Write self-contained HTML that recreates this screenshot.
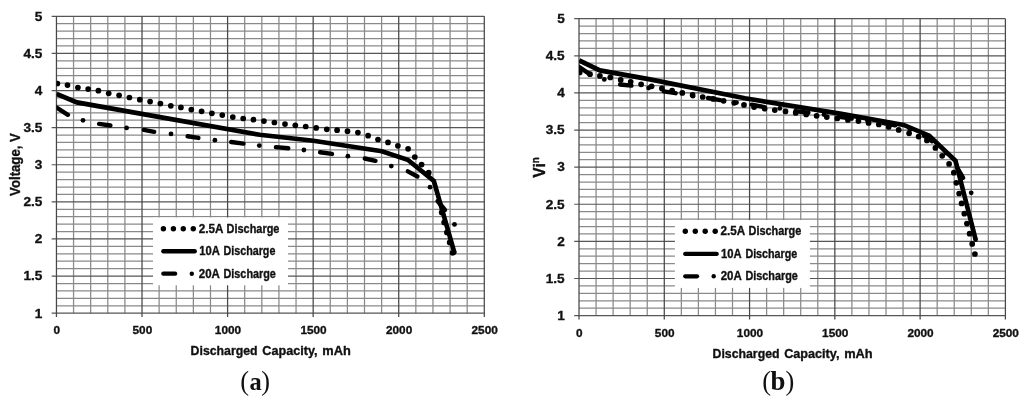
<!DOCTYPE html>
<html lang="en"><head><meta charset="utf-8"><title>Discharge curves</title>
<style>html,body{margin:0;padding:0;background:#fff}svg{display:block}text{fill:#111}</style></head><body>
<svg width="1024" height="402" viewBox="0 0 1024 402">
<rect width="1024" height="402" fill="#fff"/>
<path d="M56.45 305.78H484.3M56.45 298.36H484.3M56.45 290.93H484.3M56.45 283.51H484.3M56.45 268.66H484.3M56.45 261.24H484.3M56.45 253.82H484.3M56.45 246.4H484.3M56.45 231.55H484.3M56.45 224.13H484.3M56.45 216.71H484.3M56.45 209.28H484.3M56.45 194.44H484.3M56.45 187.02H484.3M56.45 179.59H484.3M56.45 172.17H484.3M56.45 157.33H484.3M56.45 149.91H484.3M56.45 142.48H484.3M56.45 135.06H484.3M56.45 120.22H484.3M56.45 112.79H484.3M56.45 105.37H484.3M56.45 97.95H484.3M56.45 83.1H484.3M56.45 75.68H484.3M56.45 68.26H484.3M56.45 60.83H484.3M56.45 45.99H484.3M56.45 38.57H484.3M56.45 31.14H484.3M56.45 23.72H484.3" stroke="#8a8a8a" stroke-width="1.25" fill="none"/>
<path d="M73.56 16.3V313.2M90.68 16.3V313.2M107.79 16.3V313.2M124.91 16.3V313.2M159.13 16.3V313.2M176.25 16.3V313.2M193.36 16.3V313.2M210.48 16.3V313.2M244.7 16.3V313.2M261.82 16.3V313.2M278.93 16.3V313.2M296.05 16.3V313.2M330.27 16.3V313.2M347.39 16.3V313.2M364.5 16.3V313.2M381.62 16.3V313.2M415.84 16.3V313.2M432.96 16.3V313.2M450.07 16.3V313.2M467.19 16.3V313.2" stroke="#8a8a8a" stroke-width="1.25" fill="none"/>
<path d="M51.65 313.2H484.3M51.65 276.09H484.3M51.65 238.97H484.3M51.65 201.86H484.3M51.65 164.75H484.3M51.65 127.64H484.3M51.65 90.53H484.3M51.65 53.41H484.3M51.65 16.3H484.3" stroke="#565656" stroke-width="1.2" fill="none"/>
<path d="M56.45 16.3V317M142.02 16.3V317M227.59 16.3V317M313.16 16.3V317M398.73 16.3V317M484.3 16.3V317" stroke="#484848" stroke-width="1.25" fill="none"/>
<clipPath id="ca"><rect x="56.5" y="10" width="440" height="310"/></clipPath><g clip-path="url(#ca)">
<circle cx="57.4" cy="83.5" r="2.85"/>
<circle cx="67.5" cy="85.1" r="2.85"/>
<circle cx="77.9" cy="87.5" r="2.85"/>
<circle cx="88.2" cy="89.1" r="2.85"/>
<circle cx="98.4" cy="90.7" r="2.85"/>
<circle cx="108.7" cy="93.3" r="2.85"/>
<circle cx="119.1" cy="95.3" r="2.85"/>
<circle cx="129.4" cy="97.5" r="2.85"/>
<circle cx="139.8" cy="99.7" r="2.85"/>
<circle cx="150.1" cy="101.6" r="2.85"/>
<circle cx="160.4" cy="103.6" r="2.85"/>
<circle cx="170.8" cy="105.8" r="2.85"/>
<circle cx="180.9" cy="107.4" r="2.85"/>
<circle cx="191.3" cy="109.6" r="2.85"/>
<circle cx="201.6" cy="111.3" r="2.85"/>
<circle cx="211.9" cy="113.3" r="2.85"/>
<circle cx="222.3" cy="115.1" r="2.85"/>
<circle cx="232.8" cy="117.1" r="2.85"/>
<circle cx="243.2" cy="118.5" r="2.85"/>
<circle cx="253.5" cy="119.7" r="2.85"/>
<circle cx="263.9" cy="121.1" r="2.85"/>
<circle cx="274.4" cy="122.5" r="2.85"/>
<circle cx="285" cy="124.1" r="2.85"/>
<circle cx="295.3" cy="125.3" r="2.85"/>
<circle cx="305.7" cy="126.5" r="2.85"/>
<circle cx="316.2" cy="127.9" r="2.85"/>
<circle cx="326.8" cy="129.3" r="2.85"/>
<circle cx="337.1" cy="130.2" r="2.85"/>
<circle cx="347.5" cy="131.2" r="2.85"/>
<circle cx="357.9" cy="132.6" r="2.85"/>
<circle cx="368.1" cy="135.7" r="2.85"/>
<circle cx="378" cy="139.5" r="2.85"/>
<circle cx="388" cy="142.4" r="2.85"/>
<circle cx="397.9" cy="145.8" r="2.85"/>
<circle cx="408.1" cy="148.8" r="2.85"/>
<circle cx="414.8" cy="157" r="2.85"/>
<circle cx="421.6" cy="164.6" r="2.85"/>
<circle cx="428.7" cy="172.7" r="2.85"/>
<circle cx="441.7" cy="212.4" r="2.85"/>
<circle cx="444.2" cy="222.4" r="2.85"/>
<circle cx="446.9" cy="232.4" r="2.85"/>
<circle cx="449.7" cy="242.4" r="2.85"/>
<circle cx="452.6" cy="252.9" r="2.85"/>
<path d="M56.6 93.9L76.9 102.4L259.7 134.8L313.4 140.8L381.8 151.2L407.7 159.8L433.8 180.9L454.4 252.6" stroke="#000" stroke-width="4.65" fill="none" stroke-linejoin="miter" stroke-linecap="butt"/>
<circle cx="454.4" cy="252.6" r="2.2"/>
<path d="M55.1 106.7L67.9 114.8" stroke="#000" stroke-width="4.4" stroke-linecap="round"/>
<circle cx="83" cy="120.3" r="2.4"/>
<circle cx="126.6" cy="127.9" r="2.4"/>
<circle cx="171" cy="133.9" r="2.4"/>
<circle cx="214.9" cy="140.2" r="2.4"/>
<circle cx="259.3" cy="145.6" r="2.4"/>
<circle cx="303.9" cy="150" r="2.4"/>
<circle cx="347.9" cy="156.2" r="2.4"/>
<circle cx="391.3" cy="166.1" r="2.4"/>
<circle cx="430" cy="187.2" r="2.4"/>
<circle cx="454.5" cy="224.4" r="2.4"/>
<path d="M99.09 123.89L110.41 125.51" stroke="#000" stroke-width="4.4" stroke-linecap="round"/>
<path d="M143.78 129.94L154.22 131.86" stroke="#000" stroke-width="4.4" stroke-linecap="round"/>
<path d="M187.59 136.29L198.41 137.91" stroke="#000" stroke-width="4.4" stroke-linecap="round"/>
<path d="M231.19 141.97L243.51 143.63" stroke="#000" stroke-width="4.4" stroke-linecap="round"/>
<path d="M275.89 147.12L288.31 148.28" stroke="#000" stroke-width="4.4" stroke-linecap="round"/>
<path d="M320.09 152.28L332.01 153.92" stroke="#000" stroke-width="4.4" stroke-linecap="round"/>
<path d="M364.77 158.48L375.53 160.82" stroke="#000" stroke-width="4.4" stroke-linecap="round"/>
<path d="M407.84 171.32L417.46 176.48" stroke="#000" stroke-width="4.4" stroke-linecap="round"/>
<path d="M437.62 201.01L444.98 209.99" stroke="#000" stroke-width="4.4" stroke-linecap="round"/>
</g>
<rect x="153" y="217.5" width="135" height="67.8" fill="#fff"/>
<circle cx="163.4" cy="228.7" r="2.7"/>
<circle cx="173.4" cy="228.7" r="2.7"/>
<circle cx="183.3" cy="228.7" r="2.7"/>
<circle cx="193.3" cy="228.7" r="2.7"/>
<path d="M163.4 251.3H194.7" stroke="#000" stroke-width="4.4" stroke-linecap="round"/>
<path d="M163.3 273.7H175.2" stroke="#000" stroke-width="4.2" stroke-linecap="round"/>
<circle cx="191.8" cy="273.7" r="2.2"/>
<text x="198.7" y="232.8" font-size="12.1" textLength="24.6" lengthAdjust="spacingAndGlyphs" font-family="Liberation Sans, sans-serif" font-weight="bold" stroke="#111" stroke-width="0.35" stroke-linejoin="round">2.5A</text>
<text x="226.6" y="232.8" font-size="12.1" textLength="52.8" lengthAdjust="spacingAndGlyphs" font-family="Liberation Sans, sans-serif" font-weight="bold" stroke="#111" stroke-width="0.35" stroke-linejoin="round">Discharge</text>
<text x="199.2" y="255.1" font-size="12.1" textLength="20.6" lengthAdjust="spacingAndGlyphs" font-family="Liberation Sans, sans-serif" font-weight="bold" stroke="#111" stroke-width="0.35" stroke-linejoin="round">10A</text>
<text x="223.5" y="255.1" font-size="12.1" textLength="51.9" lengthAdjust="spacingAndGlyphs" font-family="Liberation Sans, sans-serif" font-weight="bold" stroke="#111" stroke-width="0.35" stroke-linejoin="round">Discharge</text>
<text x="198.8" y="277.5" font-size="12.1" textLength="21" lengthAdjust="spacingAndGlyphs" font-family="Liberation Sans, sans-serif" font-weight="bold" stroke="#111" stroke-width="0.35" stroke-linejoin="round">20A</text>
<text x="223.5" y="277.5" font-size="12.1" textLength="52.4" lengthAdjust="spacingAndGlyphs" font-family="Liberation Sans, sans-serif" font-weight="bold" stroke="#111" stroke-width="0.35" stroke-linejoin="round">Discharge</text>
<text x="42.4" y="317.5" text-anchor="end" font-size="13.6" font-family="Liberation Sans, sans-serif" font-weight="bold" stroke="#111" stroke-width="0.35" stroke-linejoin="round">1</text>
<text x="42.4" y="280.39" text-anchor="end" font-size="13.6" font-family="Liberation Sans, sans-serif" font-weight="bold" stroke="#111" stroke-width="0.35" stroke-linejoin="round">1.5</text>
<text x="42.4" y="243.28" text-anchor="end" font-size="13.6" font-family="Liberation Sans, sans-serif" font-weight="bold" stroke="#111" stroke-width="0.35" stroke-linejoin="round">2</text>
<text x="42.4" y="206.16" text-anchor="end" font-size="13.6" font-family="Liberation Sans, sans-serif" font-weight="bold" stroke="#111" stroke-width="0.35" stroke-linejoin="round">2.5</text>
<text x="42.4" y="169.05" text-anchor="end" font-size="13.6" font-family="Liberation Sans, sans-serif" font-weight="bold" stroke="#111" stroke-width="0.35" stroke-linejoin="round">3</text>
<text x="42.4" y="131.94" text-anchor="end" font-size="13.6" font-family="Liberation Sans, sans-serif" font-weight="bold" stroke="#111" stroke-width="0.35" stroke-linejoin="round">3.5</text>
<text x="42.4" y="94.83" text-anchor="end" font-size="13.6" font-family="Liberation Sans, sans-serif" font-weight="bold" stroke="#111" stroke-width="0.35" stroke-linejoin="round">4</text>
<text x="42.4" y="57.71" text-anchor="end" font-size="13.6" font-family="Liberation Sans, sans-serif" font-weight="bold" stroke="#111" stroke-width="0.35" stroke-linejoin="round">4.5</text>
<text x="42.4" y="20.6" text-anchor="end" font-size="13.6" font-family="Liberation Sans, sans-serif" font-weight="bold" stroke="#111" stroke-width="0.35" stroke-linejoin="round">5</text>
<text x="56.85" y="334.2" text-anchor="middle" font-size="11.8" font-family="Liberation Sans, sans-serif" font-weight="bold" stroke="#111" stroke-width="0.35" stroke-linejoin="round">0</text>
<text x="142.42" y="334.2" text-anchor="middle" font-size="11.8" font-family="Liberation Sans, sans-serif" font-weight="bold" stroke="#111" stroke-width="0.35" stroke-linejoin="round">500</text>
<text x="227.99" y="334.2" text-anchor="middle" font-size="11.8" font-family="Liberation Sans, sans-serif" font-weight="bold" stroke="#111" stroke-width="0.35" stroke-linejoin="round">1000</text>
<text x="313.56" y="334.2" text-anchor="middle" font-size="11.8" font-family="Liberation Sans, sans-serif" font-weight="bold" stroke="#111" stroke-width="0.35" stroke-linejoin="round">1500</text>
<text x="399.13" y="334.2" text-anchor="middle" font-size="11.8" font-family="Liberation Sans, sans-serif" font-weight="bold" stroke="#111" stroke-width="0.35" stroke-linejoin="round">2000</text>
<text x="484.7" y="334.2" text-anchor="middle" font-size="11.8" font-family="Liberation Sans, sans-serif" font-weight="bold" stroke="#111" stroke-width="0.35" stroke-linejoin="round">2500</text>
<text x="190.6" y="355.3" font-size="13.2" textLength="67" lengthAdjust="spacingAndGlyphs" font-family="Liberation Sans, sans-serif" font-weight="bold" stroke="#111" stroke-width="0.35" stroke-linejoin="round">Discharged</text>
<text x="262.3" y="355.3" font-size="13.2" textLength="55.2" lengthAdjust="spacingAndGlyphs" font-family="Liberation Sans, sans-serif" font-weight="bold" stroke="#111" stroke-width="0.35" stroke-linejoin="round">Capacity,</text>
<text x="322.3" y="355.3" font-size="13.2" textLength="28.5" lengthAdjust="spacingAndGlyphs" font-family="Liberation Sans, sans-serif" font-weight="bold" stroke="#111" stroke-width="0.35" stroke-linejoin="round">mAh</text>
<text transform="translate(19.9 195.9) rotate(-90)" font-size="14.2" textLength="62.8" lengthAdjust="spacingAndGlyphs" font-family="Liberation Sans, sans-serif" font-weight="bold" stroke="#111" stroke-width="0.35" stroke-linejoin="round">Voltage, V</text>
<text y="389.9" font-size="26.4" font-family="Liberation Serif, serif"><tspan x="240.3">(</tspan><tspan x="249.4" font-weight="bold" font-size="24.4">a</tspan><tspan x="261.3">)</tspan></text>
<path d="M579 308.18H1005.4M579 300.75H1005.4M579 293.33H1005.4M579 285.91H1005.4M579 271.06H1005.4M579 263.64H1005.4M579 256.22H1005.4M579 248.8H1005.4M579 233.95H1005.4M579 226.53H1005.4M579 219.11H1005.4M579 211.69H1005.4M579 196.84H1005.4M579 189.42H1005.4M579 182H1005.4M579 174.57H1005.4M579 159.73H1005.4M579 152.3H1005.4M579 144.88H1005.4M579 137.46H1005.4M579 122.61H1005.4M579 115.19H1005.4M579 107.77H1005.4M579 100.35H1005.4M579 85.5H1005.4M579 78.08H1005.4M579 70.66H1005.4M579 63.23H1005.4M579 48.39H1005.4M579 40.97H1005.4M579 33.54H1005.4M579 26.12H1005.4" stroke="#8a8a8a" stroke-width="1.25" fill="none"/>
<path d="M596.06 18.7V315.6M613.11 18.7V315.6M630.17 18.7V315.6M647.22 18.7V315.6M681.34 18.7V315.6M698.39 18.7V315.6M715.45 18.7V315.6M732.5 18.7V315.6M766.62 18.7V315.6M783.67 18.7V315.6M800.73 18.7V315.6M817.78 18.7V315.6M851.9 18.7V315.6M868.95 18.7V315.6M886.01 18.7V315.6M903.06 18.7V315.6M937.18 18.7V315.6M954.23 18.7V315.6M971.29 18.7V315.6M988.34 18.7V315.6" stroke="#8a8a8a" stroke-width="1.25" fill="none"/>
<path d="M574.2 315.6H1005.4M574.2 278.49H1005.4M574.2 241.38H1005.4M574.2 204.26H1005.4M574.2 167.15H1005.4M574.2 130.04H1005.4M574.2 92.93H1005.4M574.2 55.81H1005.4M574.2 18.7H1005.4" stroke="#565656" stroke-width="1.2" fill="none"/>
<path d="M579 18.7V319.4M664.28 18.7V319.4M749.56 18.7V319.4M834.84 18.7V319.4M920.12 18.7V319.4M1005.4 18.7V319.4" stroke="#484848" stroke-width="1.25" fill="none"/>
<clipPath id="cb"><rect x="579" y="10" width="440" height="312"/></clipPath><g clip-path="url(#cb)">
<circle cx="579.7" cy="72.4" r="2.85"/>
<circle cx="590" cy="74.2" r="2.85"/>
<circle cx="599.9" cy="75.9" r="2.85"/>
<circle cx="610.3" cy="77.4" r="2.85"/>
<circle cx="620.7" cy="79.9" r="2.85"/>
<circle cx="630.7" cy="81.8" r="2.85"/>
<circle cx="641.1" cy="84.3" r="2.85"/>
<circle cx="651.6" cy="86.3" r="2.85"/>
<circle cx="661.9" cy="88.4" r="2.85"/>
<circle cx="672.1" cy="90.7" r="2.85"/>
<circle cx="682.3" cy="92.9" r="2.85"/>
<circle cx="692.6" cy="94.9" r="2.85"/>
<circle cx="702.7" cy="97" r="2.85"/>
<circle cx="713.2" cy="98.9" r="2.85"/>
<circle cx="723.6" cy="100.8" r="2.85"/>
<circle cx="734.2" cy="102.8" r="2.85"/>
<circle cx="744" cy="104.9" r="2.85"/>
<circle cx="754.1" cy="107.1" r="2.85"/>
<circle cx="764.6" cy="108.7" r="2.85"/>
<circle cx="774.8" cy="110.1" r="2.85"/>
<circle cx="785.5" cy="111.4" r="2.85"/>
<circle cx="795.7" cy="112.9" r="2.85"/>
<circle cx="806.2" cy="114.4" r="2.85"/>
<circle cx="816.6" cy="115.8" r="2.85"/>
<circle cx="826.8" cy="117.1" r="2.85"/>
<circle cx="837.3" cy="118.4" r="2.85"/>
<circle cx="847.9" cy="119.9" r="2.85"/>
<circle cx="858.4" cy="121.1" r="2.85"/>
<circle cx="868.6" cy="122.9" r="2.85"/>
<circle cx="878.8" cy="124.4" r="2.85"/>
<circle cx="888.7" cy="126.9" r="2.85"/>
<circle cx="898.7" cy="129.9" r="2.85"/>
<circle cx="909.1" cy="133.3" r="2.85"/>
<circle cx="918.6" cy="136.6" r="2.85"/>
<circle cx="926.9" cy="140.4" r="2.85"/>
<circle cx="935.4" cy="147.9" r="2.85"/>
<circle cx="942.2" cy="155.8" r="2.85"/>
<circle cx="949.1" cy="163.9" r="2.85"/>
<circle cx="953.8" cy="172.7" r="2.85"/>
<circle cx="956.3" cy="182.8" r="2.85"/>
<circle cx="959.1" cy="193.5" r="2.85"/>
<circle cx="961.6" cy="203.4" r="2.85"/>
<circle cx="964.3" cy="213.7" r="2.85"/>
<circle cx="966.9" cy="223.6" r="2.85"/>
<circle cx="969.6" cy="233.7" r="2.85"/>
<circle cx="972.2" cy="243.9" r="2.85"/>
<circle cx="974.9" cy="254" r="2.85"/>
<path d="M579.2 60.4L599.9 70.4L650 79.4L745 98.3L840 113.6L903.6 124.9L929.2 135.7L955.5 160.7L975.7 239.8" stroke="#000" stroke-width="4.65" fill="none" stroke-linejoin="miter" stroke-linecap="butt"/>
<circle cx="975.7" cy="239.8" r="2.2"/>
<path d="M579.27 66.94L589.33 73.86" stroke="#000" stroke-width="4.4" stroke-linecap="round"/>
<path d="M620.09 84.44L631.41 85.66" stroke="#000" stroke-width="4.4" stroke-linecap="round"/>
<path d="M663.68 91.3L675.62 93.2" stroke="#000" stroke-width="4.4" stroke-linecap="round"/>
<path d="M707.98 98.02L720.32 100.08" stroke="#000" stroke-width="4.4" stroke-linecap="round"/>
<path d="M751.68 104.65L764.62 107.15" stroke="#000" stroke-width="4.4" stroke-linecap="round"/>
<path d="M795.49 111.07L808.41 112.73" stroke="#000" stroke-width="4.4" stroke-linecap="round"/>
<path d="M839.29 116.79L851.71 118.61" stroke="#000" stroke-width="4.4" stroke-linecap="round"/>
<path d="M883.28 123.05L895.22 125.35" stroke="#000" stroke-width="4.4" stroke-linecap="round"/>
<path d="M924.07 135.65L931.93 141.15" stroke="#000" stroke-width="4.4" stroke-linecap="round"/>
<path d="M957.46 168.12L963.14 177.78" stroke="#000" stroke-width="4.4" stroke-linecap="round"/>
<circle cx="604.3" cy="79.4" r="2.4"/>
<circle cx="648.6" cy="88" r="2.4"/>
<circle cx="692.9" cy="96.2" r="2.4"/>
<circle cx="736.5" cy="102.6" r="2.4"/>
<circle cx="779.8" cy="108.4" r="2.4"/>
<circle cx="824" cy="114.6" r="2.4"/>
<circle cx="867.5" cy="120.7" r="2.4"/>
<circle cx="910" cy="129.5" r="2.4"/>
<circle cx="946" cy="153" r="2.4"/>
<circle cx="971.2" cy="192.8" r="2.4"/>
</g>
<rect x="674.9" y="220.1" width="135" height="67.8" fill="#fff"/>
<circle cx="685.3" cy="231.3" r="2.7"/>
<circle cx="695.3" cy="231.3" r="2.7"/>
<circle cx="705.2" cy="231.3" r="2.7"/>
<circle cx="715.2" cy="231.3" r="2.7"/>
<path d="M685.3 253.9H716.6" stroke="#000" stroke-width="4.4" stroke-linecap="round"/>
<path d="M685.2 276.3H697.1" stroke="#000" stroke-width="4.2" stroke-linecap="round"/>
<circle cx="713.7" cy="276.3" r="2.2"/>
<text x="720.6" y="235.4" font-size="12.1" textLength="24.6" lengthAdjust="spacingAndGlyphs" font-family="Liberation Sans, sans-serif" font-weight="bold" stroke="#111" stroke-width="0.35" stroke-linejoin="round">2.5A</text>
<text x="748.5" y="235.4" font-size="12.1" textLength="52.8" lengthAdjust="spacingAndGlyphs" font-family="Liberation Sans, sans-serif" font-weight="bold" stroke="#111" stroke-width="0.35" stroke-linejoin="round">Discharge</text>
<text x="721.1" y="257.7" font-size="12.1" textLength="20.6" lengthAdjust="spacingAndGlyphs" font-family="Liberation Sans, sans-serif" font-weight="bold" stroke="#111" stroke-width="0.35" stroke-linejoin="round">10A</text>
<text x="745.4" y="257.7" font-size="12.1" textLength="51.9" lengthAdjust="spacingAndGlyphs" font-family="Liberation Sans, sans-serif" font-weight="bold" stroke="#111" stroke-width="0.35" stroke-linejoin="round">Discharge</text>
<text x="720.7" y="280.1" font-size="12.1" textLength="21" lengthAdjust="spacingAndGlyphs" font-family="Liberation Sans, sans-serif" font-weight="bold" stroke="#111" stroke-width="0.35" stroke-linejoin="round">20A</text>
<text x="745.4" y="280.1" font-size="12.1" textLength="52.4" lengthAdjust="spacingAndGlyphs" font-family="Liberation Sans, sans-serif" font-weight="bold" stroke="#111" stroke-width="0.35" stroke-linejoin="round">Discharge</text>
<text x="564.7" y="319.9" text-anchor="end" font-size="13.6" font-family="Liberation Sans, sans-serif" font-weight="bold" stroke="#111" stroke-width="0.35" stroke-linejoin="round">1</text>
<text x="564.7" y="282.79" text-anchor="end" font-size="13.6" font-family="Liberation Sans, sans-serif" font-weight="bold" stroke="#111" stroke-width="0.35" stroke-linejoin="round">1.5</text>
<text x="564.7" y="245.68" text-anchor="end" font-size="13.6" font-family="Liberation Sans, sans-serif" font-weight="bold" stroke="#111" stroke-width="0.35" stroke-linejoin="round">2</text>
<text x="564.7" y="208.56" text-anchor="end" font-size="13.6" font-family="Liberation Sans, sans-serif" font-weight="bold" stroke="#111" stroke-width="0.35" stroke-linejoin="round">2.5</text>
<text x="564.7" y="171.45" text-anchor="end" font-size="13.6" font-family="Liberation Sans, sans-serif" font-weight="bold" stroke="#111" stroke-width="0.35" stroke-linejoin="round">3</text>
<text x="564.7" y="134.34" text-anchor="end" font-size="13.6" font-family="Liberation Sans, sans-serif" font-weight="bold" stroke="#111" stroke-width="0.35" stroke-linejoin="round">3.5</text>
<text x="564.7" y="97.23" text-anchor="end" font-size="13.6" font-family="Liberation Sans, sans-serif" font-weight="bold" stroke="#111" stroke-width="0.35" stroke-linejoin="round">4</text>
<text x="564.7" y="60.11" text-anchor="end" font-size="13.6" font-family="Liberation Sans, sans-serif" font-weight="bold" stroke="#111" stroke-width="0.35" stroke-linejoin="round">4.5</text>
<text x="564.7" y="23" text-anchor="end" font-size="13.6" font-family="Liberation Sans, sans-serif" font-weight="bold" stroke="#111" stroke-width="0.35" stroke-linejoin="round">5</text>
<text x="579.4" y="336.5" text-anchor="middle" font-size="11.8" font-family="Liberation Sans, sans-serif" font-weight="bold" stroke="#111" stroke-width="0.35" stroke-linejoin="round">0</text>
<text x="664.68" y="336.5" text-anchor="middle" font-size="11.8" font-family="Liberation Sans, sans-serif" font-weight="bold" stroke="#111" stroke-width="0.35" stroke-linejoin="round">500</text>
<text x="749.96" y="336.5" text-anchor="middle" font-size="11.8" font-family="Liberation Sans, sans-serif" font-weight="bold" stroke="#111" stroke-width="0.35" stroke-linejoin="round">1000</text>
<text x="835.24" y="336.5" text-anchor="middle" font-size="11.8" font-family="Liberation Sans, sans-serif" font-weight="bold" stroke="#111" stroke-width="0.35" stroke-linejoin="round">1500</text>
<text x="920.52" y="336.5" text-anchor="middle" font-size="11.8" font-family="Liberation Sans, sans-serif" font-weight="bold" stroke="#111" stroke-width="0.35" stroke-linejoin="round">2000</text>
<text x="1005.8" y="336.5" text-anchor="middle" font-size="11.8" font-family="Liberation Sans, sans-serif" font-weight="bold" stroke="#111" stroke-width="0.35" stroke-linejoin="round">2500</text>
<text x="712.5" y="357.8" font-size="13.2" textLength="67" lengthAdjust="spacingAndGlyphs" font-family="Liberation Sans, sans-serif" font-weight="bold" stroke="#111" stroke-width="0.35" stroke-linejoin="round">Discharged</text>
<text x="784.2" y="357.8" font-size="13.2" textLength="55.2" lengthAdjust="spacingAndGlyphs" font-family="Liberation Sans, sans-serif" font-weight="bold" stroke="#111" stroke-width="0.35" stroke-linejoin="round">Capacity,</text>
<text x="844.2" y="357.8" font-size="13.2" textLength="28.5" lengthAdjust="spacingAndGlyphs" font-family="Liberation Sans, sans-serif" font-weight="bold" stroke="#111" stroke-width="0.35" stroke-linejoin="round">mAh</text>
<text transform="translate(545.1 177.7) rotate(-90)" font-size="16.2" textLength="20.6" lengthAdjust="spacingAndGlyphs" font-family="Liberation Sans, sans-serif" font-weight="bold" stroke="#111" stroke-width="0.35" stroke-linejoin="round">Vi<tspan font-size="10.2" dy="-5.8">n</tspan></text>
<text y="389.9" font-size="26.4" font-family="Liberation Serif, serif"><tspan x="762.2">(</tspan><tspan x="770.5" font-weight="bold" font-size="26.8">b</tspan><tspan x="785.5">)</tspan></text>
</svg></body></html>
